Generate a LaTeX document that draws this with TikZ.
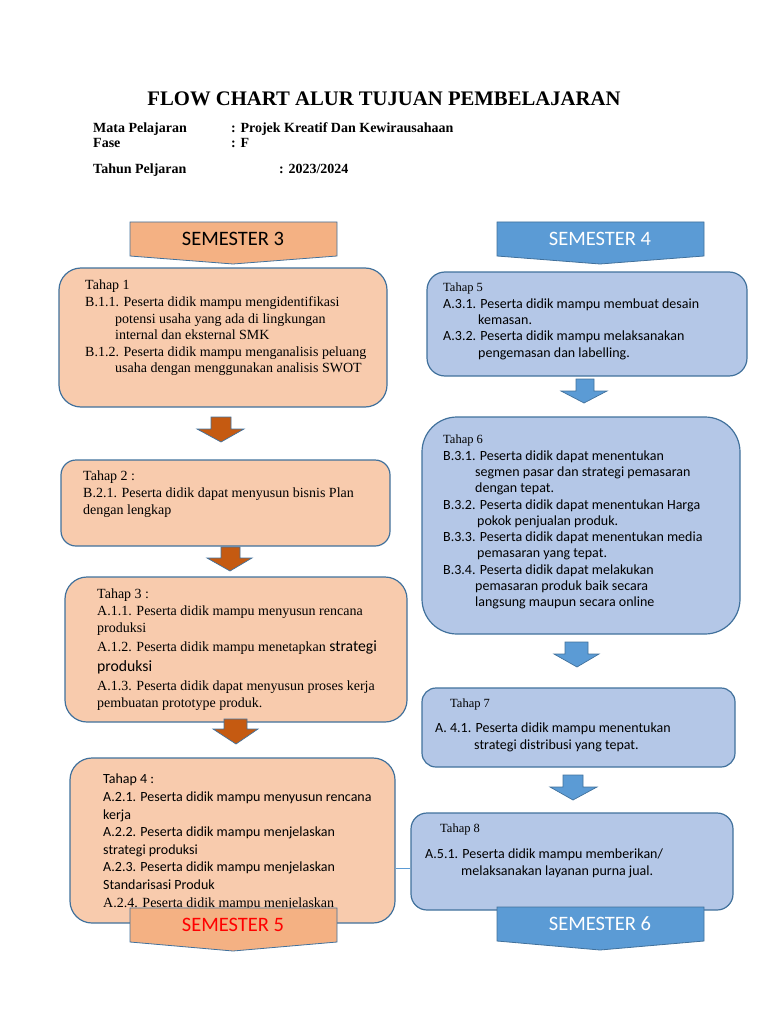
\documentclass[tikz,border=0pt]{standalone}
\usepackage{fontspec}
\setmainfont{Liberation Serif}
\newfontfamily\calibri{Carlito}
\usetikzlibrary{positioning}

\definecolor{PeachFill}{HTML}{F8CBAD}
\definecolor{SemOrange}{HTML}{F4B183}
\definecolor{ArrowOrange}{HTML}{C55A11}
\definecolor{SkyFill}{HTML}{B4C7E7}
\definecolor{SemBlue}{HTML}{5B9BD5}
\definecolor{EdgeBlue}{HTML}{41719C}

\begin{document}
\begin{tikzpicture}[
        x=1pt,y=-1pt,
        BoxPeach/.style={
            draw=EdgeBlue,
            line width=1.2pt,
            fill=PeachFill,
            rounded corners=#1,
            inner sep=0pt
        },
        BoxPeach/.default=20pt,
        BoxSky/.style={
            draw=EdgeBlue,
            line width=1.2pt,
            fill=SkyFill,
            rounded corners=#1,
            inner sep=0pt
        },
        BoxSky/.default=18pt,
        BannerCfg/.style={draw=EdgeBlue,line width=0.8pt},
        BlockArrow/.style={draw=EdgeBlue,line width=0.7pt},
        SemTxt/.style={font=\calibri\fontsize{20.5}{23}\selectfont,inner sep=0pt},
        TxtSerif/.style={font=\fontsize{14}{16.6}\selectfont,align=left,inner sep=0pt,anchor=north west},
        TxtCal/.style={font=\calibri\fontsize{14}{16.3}\selectfont,align=left,inner sep=0pt,anchor=north west},
        HeadTxt/.style={font=\bfseries\fontsize{14}{16}\selectfont,inner sep=0pt,anchor=base west}
    ]
    \useasboundingbox (0,0) rectangle (768,1024);
    
    %header
    \node[font=\bfseries\fontsize{20.7}{24}\selectfont,inner sep=0pt,anchor=base] (title) at (384,106) {FLOW CHART ALUR TUJUAN PEMBELAJARAN};
    \node[HeadTxt] (mapel) at (93,133) {Mata Pelajaran};
    \node[HeadTxt] (mapelv) at (231,133) {: Projek Kreatif Dan Kewirausahaan};
    \node[HeadTxt] (fase) at (93,148) {Fase};
    \node[HeadTxt] (fasev) at (231,148) {: F};
    \node[HeadTxt] (tahun) at (93,174) {Tahun Peljaran};
    \node[HeadTxt] (tahunv) at (279,174) {: 2023/2024};
    
    %boxes semester 3 and 5
    \node[BoxPeach=22pt,minimum width=328pt,minimum height=139pt] (T1) at (223,337.5) {};
    \node[BoxPeach=15pt,minimum width=329pt,minimum height=86pt] (T2) at (225.5,503) {};
    \node[BoxPeach=22pt,minimum width=342pt,minimum height=145pt] (T3) at (236,649.5) {};
    \node[BoxPeach=22pt,minimum width=325pt,minimum height=165pt] (T4) at (232.5,840.5) {};
    
    %boxes semester 4 and 6
    \node[BoxSky=18pt,minimum width=320pt,minimum height=104pt] (T5) at (587,324) {};
    \node[BoxSky=35pt,minimum width=318pt,minimum height=217pt] (T6) at (581,525.5) {};
    \node[BoxSky=14pt,minimum width=313pt,minimum height=79pt] (T7) at (578.5,727.5) {};
    \node[BoxSky=16pt,minimum width=322pt,minimum height=97pt] (T8) at (572,861.5) {};
    
    %link tahap 4 - tahap 8
    \draw[SemBlue,line width=0.6pt] ([yshift=-6.5pt]T8.west -| T4.east)--([yshift=-6.5pt]T8.west);
    
    %texts
    \node[TxtSerif] (T1txt) at (85,280) {Tahap 1\\
        B.1.1. Peserta didik mampu mengidentifikasi\\
        \hspace*{30pt}potensi usaha yang ada di lingkungan\\
        \hspace*{30pt}internal dan eksternal SMK\\
        B.1.2. Peserta didik mampu menganalisis peluang\\
        \hspace*{30pt}usaha dengan menggunakan analisis SWOT};
    \node[TxtSerif] (T2txt) at (83,471) {Tahap 2 :\\
        B.2.1. Peserta didik dapat menyusun bisnis Plan\\
        dengan lengkap};
    \node[TxtSerif,font=\fontsize{14}{17}\selectfont] (T3txt) at (97,589) {Tahap 3 :\\
        A.1.1. Peserta didik mampu menyusun rencana\\
        produksi\\[2pt]
        A.1.2. Peserta didik mampu menetapkan {\calibri\fontsize{15.7}{17}\selectfont strategi}\\[3pt]
        {\calibri\fontsize{15.7}{17}\selectfont produksi}\\[2pt]
        A.1.3. Peserta didik dapat menyusun proses kerja\\
        pembuatan prototype produk.};
    \node[TxtCal,font=\calibri\fontsize{14}{17.6}\selectfont] (T4txt) at (103,774) {Tahap 4 :\\
        A.2.1. Peserta didik mampu menyusun rencana\\
        kerja\\
        A.2.2. Peserta didik mampu menjelaskan\\
        strategi produksi\\
        A.2.3. Peserta didik mampu menjelaskan\\
        Standarisasi Produk\\
        {\rmfamily\fontsize{14}{17.6}\selectfont A.2.4. Peserta didik mampu menjelaskan}};
    \node[TxtCal] (T5txt) at (443,283) {{\rmfamily\fontsize{12.5}{16}\selectfont Tahap 5}\\
        A.3.1. Peserta didik mampu membuat desain\\
        \hspace*{35pt}kemasan.\\
        A.3.2. Peserta didik mampu melaksanakan\\
        \hspace*{35pt}pengemasan dan labelling.};
    \node[TxtCal] (T6txt) at (443,435) {{\rmfamily\fontsize{12.5}{16}\selectfont Tahap 6}\\
        B.3.1. Peserta didik dapat menentukan\\
        \hspace*{32pt}segmen pasar dan strategi pemasaran\\
        \hspace*{32pt}dengan tepat.\\
        B.3.2. Peserta didik dapat menentukan Harga\\
        \hspace*{34pt}pokok penjualan produk.\\
        B.3.3. Peserta didik dapat menentukan media\\
        \hspace*{34pt}pemasaran yang tepat.\\
        B.3.4. Peserta didik dapat melakukan\\
        \hspace*{32pt}pemasaran produk baik secara\\
        \hspace*{32pt}langsung maupun secara online};
    \node[TxtCal] (T7txt) at (435,699) {\hspace*{15pt}{\rmfamily\fontsize{12.5}{16}\selectfont Tahap 7}\\[8.7pt]
        A. 4.1. Peserta didik mampu menentukan\\
        \hspace*{39pt}strategi distribusi yang tepat.};
    \node[TxtCal] (T8txt) at (425,824) {\hspace*{15pt}{\rmfamily\fontsize{12.5}{16}\selectfont Tahap 8}\\[9.7pt]
        A.5.1. Peserta didik mampu memberikan/\\
        \hspace*{36pt}melaksanakan layanan purna jual.};
    
    %banners
    \draw[BannerCfg,fill=SemOrange] (130,222)coordinate (S3a)--(337,222)--(337,256)--(233,264)--(130,256)--cycle;
    \node[SemTxt] (S3) at (233,239) {SEMESTER 3};
    \draw[BannerCfg,fill=SemBlue] (497,222)coordinate (S4a)--(704,222)--(704,256)--(600,264)--(497,256)--cycle;
    \node[SemTxt,white] (S4) at (600,239) {SEMESTER 4};
    \draw[BannerCfg,fill=SemOrange] (130,908)coordinate (S5a)--(337,908)--(337,942)--(233,951)--(130,942)--cycle;
    \node[SemTxt,red] (S5) at (233,925) {SEMESTER 5};
    \draw[BannerCfg,fill=SemBlue] (497,907)coordinate (S6a)--(704,907)--(704,941)--(600,950)--(497,941)--cycle;
    \node[SemTxt,white] (S6) at (600,924) {SEMESTER 6};
    
    %block arrows
    \draw[BlockArrow,fill=ArrowOrange] (211,417)--(231,417)--(231,429)--(244,429)--(221,442)--(197,429)--(211,429)--cycle;
    \draw[BlockArrow,fill=ArrowOrange] (221,547)--(240,547)--(240,558)--(252,558)--(230,571)--(207,558)--(221,558)--cycle;
    \draw[BlockArrow,fill=ArrowOrange] (224,719)--(247,719)--(247,729)--(258,729)--(236,744)--(213,729)--(224,729)--cycle;
    \draw[BlockArrow,fill=SemBlue] (576,379)--(594,379)--(594,391)--(607,391)--(584,403)--(561,391)--(576,391)--cycle;
    \draw[BlockArrow,fill=SemBlue] (565,642)--(588,642)--(588,654)--(599,654)--(577,667)--(554,654)--(565,654)--cycle;
    \draw[BlockArrow,fill=SemBlue] (563,775)--(583,775)--(583,787)--(597,787)--(573,800)--(550,787)--(563,787)--cycle;
    
\end{tikzpicture}
\end{document}
